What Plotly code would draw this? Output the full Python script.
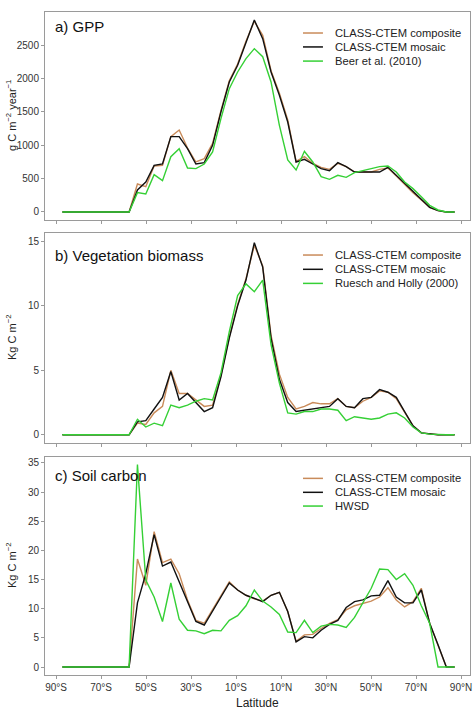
import plotly.graph_objects as go
from plotly.subplots import make_subplots

# T47 gaussian latitudes (deg)
lat = [-87.16, -83.48, -79.78, -76.07, -72.36, -68.65, -64.94, -61.23,
       -57.52, -53.81, -50.10, -46.39, -42.68, -38.97, -35.26, -31.55,
       -27.83, -24.12, -20.41, -16.70, -12.99, -9.28, -5.57, -1.86,
       1.86, 5.57, 9.28, 12.99, 16.70, 20.41, 24.12, 27.83,
       31.55, 35.26, 38.97, 42.68, 46.39, 50.10, 53.81, 57.52,
       61.23, 64.94, 68.65, 72.36, 76.07, 79.78, 83.48, 87.16]

gpp_composite = [0, 0, 0, 0, 0, 0, 0, 0, 0, 420, 380, 690, 700, 1130, 1230, 960,
                 750, 800, 1030, 1520, 1970, 2220, 2560, 2860, 2650, 2120, 1780, 1380,
                 760, 830, 730, 670, 640, 730, 680, 600, 600, 600, 640, 660,
                 540, 410, 290, 180, 70, 20, 0, 0]
gpp_mosaic = [0, 0, 0, 0, 0, 0, 0, 0, 0, 330, 450, 700, 720, 1130, 1130, 950,
              720, 740, 1000, 1500, 1950, 2200, 2550, 2880, 2600, 2100, 1750, 1350,
              750, 790, 720, 650, 620, 740, 680, 600, 600, 600, 600, 670,
              550, 420, 300, 190, 70, 20, 0, 0]
gpp_beer = [0, 0, 0, 0, 0, 0, 0, 0, 0, 290, 270, 560, 470, 830, 950, 660,
            650, 720, 900, 1400, 1850, 2100, 2300, 2450, 2330, 1950, 1300, 780,
            630, 910, 750, 530, 490, 550, 520, 590, 620, 650, 680, 690,
            600, 450, 350, 230, 100, 30, 0, 0]

veg_composite = [0, 0, 0, 0, 0, 0, 0, 0, 0, 0.9, 0.8, 1.7, 2.2, 5.0, 3.2, 3.2,
                 2.7, 2.2, 2.3, 4.6, 7.6, 10.1, 12.1, 14.7, 13.1, 7.7, 4.7, 2.9,
                 2.0, 2.2, 2.5, 2.4, 2.4, 2.8, 2.2, 2.1, 2.6, 2.9, 3.4, 3.3,
                 2.8, 1.8, 0.7, 0.15, 0.05, 0, 0, 0]
veg_mosaic = [0, 0, 0, 0, 0, 0, 0, 0, 0, 1.0, 1.1, 2.0, 2.9, 4.9, 2.7, 3.2,
              2.5, 1.8, 2.1, 4.5, 7.5, 10.0, 12.0, 14.9, 13.0, 7.5, 4.3, 2.5,
              1.8, 1.9, 2.0, 2.1, 2.2, 2.8, 2.2, 2.1, 2.8, 2.9, 3.5, 3.3,
              2.9, 1.8, 0.7, 0.15, 0.05, 0, 0, 0]
veg_ruesch = [0, 0, 0, 0, 0, 0, 0, 0, 0, 1.2, 0.6, 0.9, 0.7, 2.3, 2.1, 2.3,
              2.6, 2.8, 2.7, 4.8, 8.0, 10.8, 11.7, 11.1, 12.0, 7.0, 4.0, 1.7,
              1.6, 1.8, 1.8, 2.0, 2.0, 1.9, 1.1, 1.4, 1.3, 1.2, 1.3, 1.6,
              1.7, 1.3, 0.6, 0.15, 0.05, 0, 0, 0]

soil_composite = [0, 0, 0, 0, 0, 0, 0, 0, 0, 18.5, 14.0, 23.2, 17.9, 18.5, 16.0, 11.5,
                  8.0, 7.5, 9.8, 12.2, 14.6, 13.2, 12.3, 11.7, 11.3, 12.3, 12.8, 9.5,
                  4.4, 5.5, 5.6, 6.6, 7.5, 8.1, 9.8, 10.5, 10.9, 11.3, 12.0, 13.6,
                  11.5, 10.3, 11.2, 13.5, 7.5, 3.8, 0, 0]
soil_mosaic = [0, 0, 0, 0, 0, 0, 0, 0, 0, 11.0, 16.0, 22.7, 17.3, 18.0, 14.5, 11.0,
               7.8, 7.2, 9.5, 12.0, 14.4, 13.2, 12.3, 11.7, 11.2, 12.3, 12.8, 9.5,
               4.3, 5.2, 5.0, 6.3, 7.3, 8.0, 10.2, 11.2, 11.5, 12.2, 12.3, 14.8,
               12.0, 11.0, 11.0, 13.2, 7.5, 3.8, 0, 0]
soil_hwsd = [0, 0, 0, 0, 0, 0, 0, 0, 0, 34.7, 14.9, 12.0, 7.8, 14.4, 8.2, 6.3,
             6.2, 5.7, 6.3, 6.2, 8.0, 8.8, 10.5, 13.2, 11.3, 10.3, 9.0, 6.0,
             5.9, 8.0, 5.9, 7.0, 7.3, 7.2, 6.8, 8.5, 11.0, 13.5, 16.8, 16.7,
             15.0, 16.0, 14.0, 10.5, 7.5, 0, 0, 0]

lat_ticks = [-90, -70, -50, -30, -10, 10, 30, 50, 70, 90]
lat_labels = ["90°S", "70°S", "50°S", "30°S", "10°S", "10°N", "30°N", "50°N", "70°N", "90°N"]

c_comp = "#C98B5A"
c_mos = "#111111"
c_obs = "#35D035"

panels = [
    ("a) GPP", "g C m<sup>−2</sup> year<sup>−1</sup>", gpp_composite, gpp_mosaic, gpp_beer,
     "Beer et al. (2010)", [-120, 3000], [0, 500, 1000, 1500, 2000, 2500]),
    ("b) Vegetation biomass", "Kg C m<sup>−2</sup>", veg_composite, veg_mosaic, veg_ruesch,
     "Ruesch and Holly (2000)", [-0.64, 15.65], [0, 5, 10, 15]),
    ("c) Soil carbon", "Kg C m<sup>−2</sup>", soil_composite, soil_mosaic, soil_hwsd,
     "HWSD", [-1.37, 36.0], [0, 5, 10, 15, 20, 25, 30, 35]),
]
domains = [[0.6863, 1.0], [0.3499, 0.6667], [0.0, 0.3288]]
title_y = [0.928, 0.895, 0.917]
# legend row positions (fraction of each panel's height)
legend_rows = [[0.899, 0.832, 0.764], [0.895, 0.827, 0.760], [0.902, 0.838, 0.775]]

fig = make_subplots(rows=3, cols=1)

font = "Liberation Sans, Arial, sans-serif"
for i, (ttl, ylab, comp, mos, obs, obsname, yr, yt) in enumerate(panels):
    row = i + 1
    xd = "x domain" if i == 0 else "x%d domain" % row
    yd = "y domain" if i == 0 else "y%d domain" % row
    series = [(comp, "CLASS-CTEM composite", c_comp),
              (mos, "CLASS-CTEM mosaic", c_mos),
              (obs, obsname, c_obs)]
    for k, (y, name, col) in enumerate(series):
        fig.add_trace(go.Scatter(x=lat, y=y, mode="lines", name=name,
                                 line=dict(color=col, width=1.4),
                                 showlegend=False), row=row, col=1)
        # hand-made legend entry (tighter spacing than plotly's legend)
        ly = legend_rows[i][k]
        fig.add_shape(type="line", xref=xd, yref=yd, x0=0.607, x1=0.654,
                      y0=ly, y1=ly, line=dict(color=col, width=1.5))
        fig.add_annotation(text=name, xref=xd, yref=yd, x=0.678, y=ly,
                           xanchor="left", yanchor="middle", showarrow=False,
                           font=dict(size=11.2, color="#222"))
    fig.update_yaxes(range=yr, tickvals=yt, domain=domains[i], row=row, col=1)
    fig.update_xaxes(range=[-94.9, 94.0], tickvals=lat_ticks,
                     ticktext=lat_labels, showticklabels=(row == 3), row=row, col=1)
    fig.add_annotation(text=ttl, xref=xd, yref=yd, x=0.018, y=title_y[i],
                       xanchor="left", yanchor="middle", showarrow=False,
                       font=dict(size=15, color="#111"))
    fig.add_annotation(text=ylab, xref="paper", yref=yd, x=-0.08, y=0.5,
                       textangle=-90, xanchor="center", yanchor="middle",
                       showarrow=False, font=dict(size=11, color="#222"))

fig.add_annotation(text="Latitude", xref="paper", yref="paper", x=0.5, y=-0.042,
                   xanchor="center", yanchor="middle", showarrow=False,
                   font=dict(size=12, color="#222"))

fig.update_xaxes(showline=True, mirror=True, linecolor="#9a9a9a", linewidth=1,
                 ticks="outside", ticklen=3, tickcolor="#9a9a9a",
                 showgrid=False, zeroline=False, automargin=False,
                 tickfont=dict(size=10, color="#333"))
fig.update_yaxes(showline=True, mirror=True, linecolor="#9a9a9a", linewidth=1,
                 ticks="outside", ticklen=3, tickcolor="#9a9a9a",
                 showgrid=False, zeroline=False, automargin=False,
                 tickfont=dict(size=10, color="#333"))

fig.update_layout(
    width=474, height=711,
    margin=dict(l=45, r=4, t=12, b=36),
    paper_bgcolor="white", plot_bgcolor="white",
    font=dict(family=font),
    showlegend=False,
)

# drop the browser's default 8px body margin so the figure fills the window
fig.write_html("out.html", config={"displayModeBar": False},
               post_script="document.body.style.margin='0';"
                           "document.body.style.overflow='hidden';")
